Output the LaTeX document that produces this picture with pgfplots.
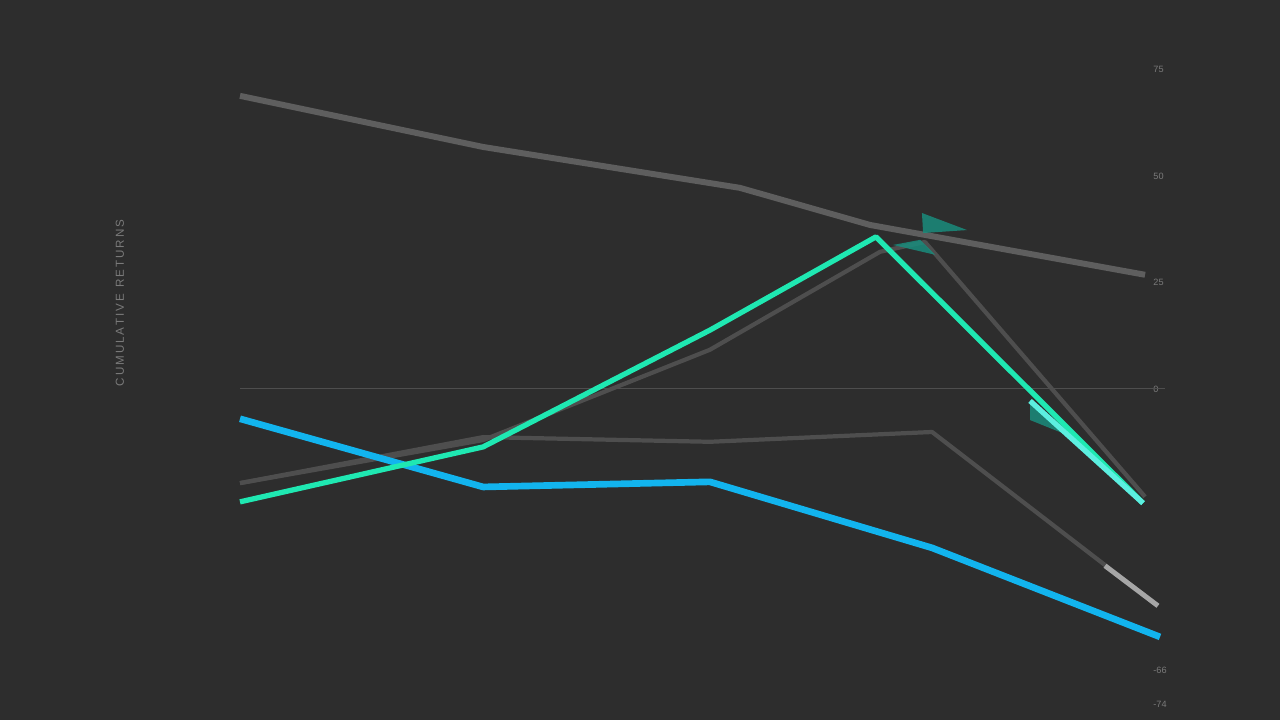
\documentclass[border=0pt]{standalone}
\usepackage{pgfplots}
\pgfplotsset{compat=1.18}
\usepackage{fontspec}
\setmainfont{Liberation Sans}
\definecolor{bg}{HTML}{2D2D2D}
\definecolor{topgray}{HTML}{5E5E5E}
\definecolor{midgray}{HTML}{4E4E4E}
\definecolor{mint}{HTML}{1FE8B2}
\definecolor{mintlight}{HTML}{5CEFE0}
\definecolor{skyblue}{HTML}{12B4EE}
\definecolor{tealshape}{HTML}{1A8C7C}
\definecolor{ticktext}{HTML}{7A7A7A}
\begin{document}
\begin{tikzpicture}
\useasboundingbox (0,0) rectangle (12.8cm,7.2cm);
\fill[bg] (0,0) rectangle (12.8cm,7.2cm);
\begin{axis}[
    at={(2.4cm,0cm)}, anchor=south west,
    scale only axis, width=9.2cm, height=7.2cm,
    xmin=0, xmax=4, ymin=-77.7, ymax=91.3,
    axis line style={draw=none},
    major tick length=0pt,
    xtick=\empty,
    ytick={0,25,50,75},
    yticklabels={0,25,50,75},
    extra y ticks={-66,-74},
    extra y tick labels={-66,-74},
    extra y tick style={grid=none},
    yticklabel pos=right,
    yticklabel style={font=\fontsize{2.6}{3}\selectfont, text=ticktext, xshift=-1.9mm},
    /pgf/number format/assume math mode=true,
    ymajorgrids=false,
    clip=false,
    line join=round,
]
% zero reference line
\addplot[draw=midgray, line width=0.3pt] coordinates {(0,0) (4.02,0)};

% top gray series
\addplot[topgray, line width=1.7pt] coordinates {
    (0,68.8) (1.057,56.8) (2.174,47.2) (2.739,38.5) (3.935,26.8)};

% lower gray series
\addplot[midgray, line width=1.2pt] coordinates {
    (0,-22.1) (1.057,-11.3) (2.043,-12.4) (3.009,-10.1) (3.991,-50.9)};
\addplot[gray!70, line width=1.4pt] coordinates {(3.761,-41.5) (3.991,-50.9)};

% middle gray series
\addplot[midgray, line width=1.2pt] coordinates {
    (0,-22.1) (1.057,-12.0) (2.043,9.2) (2.783,32.2) (2.978,34.5) (3.935,-25.3)};

% teal shapes
\addplot[fill=tealshape, draw=none, fill opacity=0.85] coordinates {
    (2.965,41.3) (3.161,37.3) (2.970,36.6)} -- cycle;
\addplot[fill=tealshape, draw=none, fill opacity=0.85] coordinates {
    (2.839,33.8) (2.957,35.0) (3.022,31.5)} -- cycle;
\addplot[fill=tealshape, draw=none, fill opacity=0.85] coordinates {
    (3.435,-2.6) (3.652,-12.0) (3.435,-7.3)} -- cycle;

% blue series
\addplot[skyblue, line width=1.9pt] coordinates {
    (0,-7.0) (1.057,-23.0) (2.043,-21.8) (3.009,-37.3) (4.0,-58.2)};

% mint series
\addplot[mint, line width=1.5pt] coordinates {
    (0,-26.5) (1.057,-13.6) (2.043,13.8) (2.765,35.7) (3.926,-26.8)};
\addplot[mintlight, line width=1.5pt] coordinates {(3.435,-2.8) (3.926,-26.8)};

% axis title
\node[rotate=90, text=ticktext, font=\fontsize{3.3}{4}\selectfont]
    at (axis cs:-0.522,20.2) {C\,U\,M\,U\,L\,A\,T\,I\,V\,E\ \ R\,E\,T\,U\,R\,N\,S};
\end{axis}
\end{tikzpicture}
\end{document}
